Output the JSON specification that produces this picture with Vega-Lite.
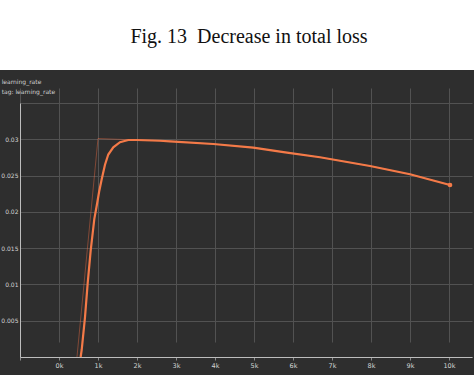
{
  "$schema": "https://vega.github.io/schema/vega-lite/v6.json",
  "width": 474,
  "height": 305,
  "autosize": {"type": "none"},
  "padding": {"top": 70, "left": 0, "right": 0, "bottom": 0},
  "background": "#ffffff",
  "title": {
    "text": "Fig. 13\u00a0 Decrease in total loss",
    "font": "Liberation Serif",
    "fontSize": 20,
    "fontWeight": "normal",
    "color": "#111111",
    "anchor": "middle",
    "baseline": "alphabetic",
    "offset": 7,
    "dx": 12
  },
  "config": {"view": {"fill": "#2e2e2e", "stroke": null}},
  "datasets": {
    "curve": [
      {"series": "raw", "step": 461, "value": 0},
      {"series": "raw", "step": 1000, "value": 0.0301},
      {"series": "raw", "step": 1500, "value": 0.0300},
      {"series": "raw", "step": 2000, "value": 0.0299},
      {"series": "raw", "step": 2590, "value": 0.0298},
      {"series": "raw", "step": 3956, "value": 0.02935},
      {"series": "raw", "step": 4982, "value": 0.02884},
      {"series": "raw", "step": 6692, "value": 0.02752},
      {"series": "raw", "step": 7974, "value": 0.02632},
      {"series": "raw", "step": 9000, "value": 0.02518},
      {"series": "raw", "step": 10026, "value": 0.0237},
      {"series": "smoothed", "step": 555, "value": 0},
      {"series": "smoothed", "step": 582, "value": 0.001},
      {"series": "smoothed", "step": 667, "value": 0.0055},
      {"series": "smoothed", "step": 736, "value": 0.0102},
      {"series": "smoothed", "step": 813, "value": 0.0147},
      {"series": "smoothed", "step": 905, "value": 0.0190},
      {"series": "smoothed", "step": 966, "value": 0.0208},
      {"series": "smoothed", "step": 1030, "value": 0.0228},
      {"series": "smoothed", "step": 1095, "value": 0.0245},
      {"series": "smoothed", "step": 1179, "value": 0.0265},
      {"series": "smoothed", "step": 1264, "value": 0.0279},
      {"series": "smoothed", "step": 1392, "value": 0.0289},
      {"series": "smoothed", "step": 1564, "value": 0.0296},
      {"series": "smoothed", "step": 1777, "value": 0.0299},
      {"series": "smoothed", "step": 1992, "value": 0.0299},
      {"series": "smoothed", "step": 2590, "value": 0.0298},
      {"series": "smoothed", "step": 2846, "value": 0.0297},
      {"series": "smoothed", "step": 3956, "value": 0.02935},
      {"series": "smoothed", "step": 4982, "value": 0.02884},
      {"series": "smoothed", "step": 5800, "value": 0.0282},
      {"series": "smoothed", "step": 6692, "value": 0.02752},
      {"series": "smoothed", "step": 7974, "value": 0.02632},
      {"series": "smoothed", "step": 9000, "value": 0.02518},
      {"series": "smoothed", "step": 10026, "value": 0.0237}
    ],
    "labels": [
      {"line": 1, "label": "learning_rate"},
      {"line": 2, "label": "tag: learning_rate"}
    ]
  },
  "layer": [
    {
      "data": {"name": "curve"},
      "transform": [{"filter": "datum.series == 'raw'"}],
      "mark": {"type": "line", "color": "#ff7043", "opacity": 0.4, "strokeWidth": 1},
      "encoding": {
        "x": {
          "field": "step",
          "type": "quantitative",
          "scale": {"domain": [-1000, 10590], "range": [20, 472], "nice": false, "zero": false},
          "axis": {
            "title": null,
            "values": [-1000, 0, 1000, 2000, 3000, 4000, 5000, 6000, 7000, 8000, 9000, 10000],
            "format": "~s",
            "labelExpr": "datum.value < 0 ? '' : datum.label",
            "offset": -18,
            "grid": true,
            "gridColor": "#525252",
            "gridWidth": 1,
            "domainColor": "#bdbdbd",
            "domainWidth": 1,
            "tickColor": "#8a8a8a",
            "tickSize": 3,
            "labelColor": "#d4d4d4",
            "labelFontSize": 6.5,
            "labelFont": "DejaVu Sans",
            "labelPadding": 2
          }
        },
        "y": {
          "field": "value",
          "type": "quantitative",
          "scale": {"domain": [0, 0.035], "range": [287, 33], "nice": false, "zero": false},
          "axis": {
            "title": null,
            "values": [0, 0.005, 0.01, 0.015, 0.02, 0.025, 0.03, 0.035],
            "format": ".3~f",
            "labelExpr": "datum.value == 0 || datum.value > 0.034 ? '' : datum.label",
            "offset": -20,
            "grid": true,
            "gridColor": "#525252",
            "gridWidth": 1,
            "domainColor": "#bdbdbd",
            "domainWidth": 1,
            "ticks": false,
            "labelColor": "#d4d4d4",
            "labelFontSize": 6,
            "labelFont": "DejaVu Sans",
            "labelPadding": 2
          }
        }
      }
    },
    {
      "data": {"name": "curve"},
      "transform": [{"filter": "datum.series == 'smoothed'"}],
      "mark": {"type": "line", "color": "#f47a48", "strokeWidth": 2.2},
      "encoding": {
        "x": {"field": "step", "type": "quantitative"},
        "y": {"field": "value", "type": "quantitative"}
      }
    },
    {
      "data": {"name": "curve"},
      "transform": [{"filter": "datum.series == 'smoothed' && datum.step > 10000"}],
      "mark": {"type": "point", "filled": true, "color": "#f47a48", "size": 22, "opacity": 1},
      "encoding": {
        "x": {"field": "step", "type": "quantitative"},
        "y": {"field": "value", "type": "quantitative"}
      }
    },
    {
      "data": {"name": "labels"},
      "transform": [{"filter": "datum.line == 1"}],
      "mark": {"type": "text", "align": "left", "baseline": "middle", "fontSize": 6, "color": "#d0d0d0", "font": "DejaVu Sans"},
      "encoding": {"x": {"datum": -1470, "type": "quantitative"}, "y": {"datum": 0.0379, "type": "quantitative"}, "text": {"field": "label"}}
    },
    {
      "data": {"name": "labels"},
      "transform": [{"filter": "datum.line == 2"}],
      "mark": {"type": "text", "align": "left", "baseline": "middle", "fontSize": 6, "color": "#d0d0d0", "font": "DejaVu Sans"},
      "encoding": {"x": {"datum": -1470, "type": "quantitative"}, "y": {"datum": 0.03652, "type": "quantitative"}, "text": {"field": "label"}}
    }
  ]
}
